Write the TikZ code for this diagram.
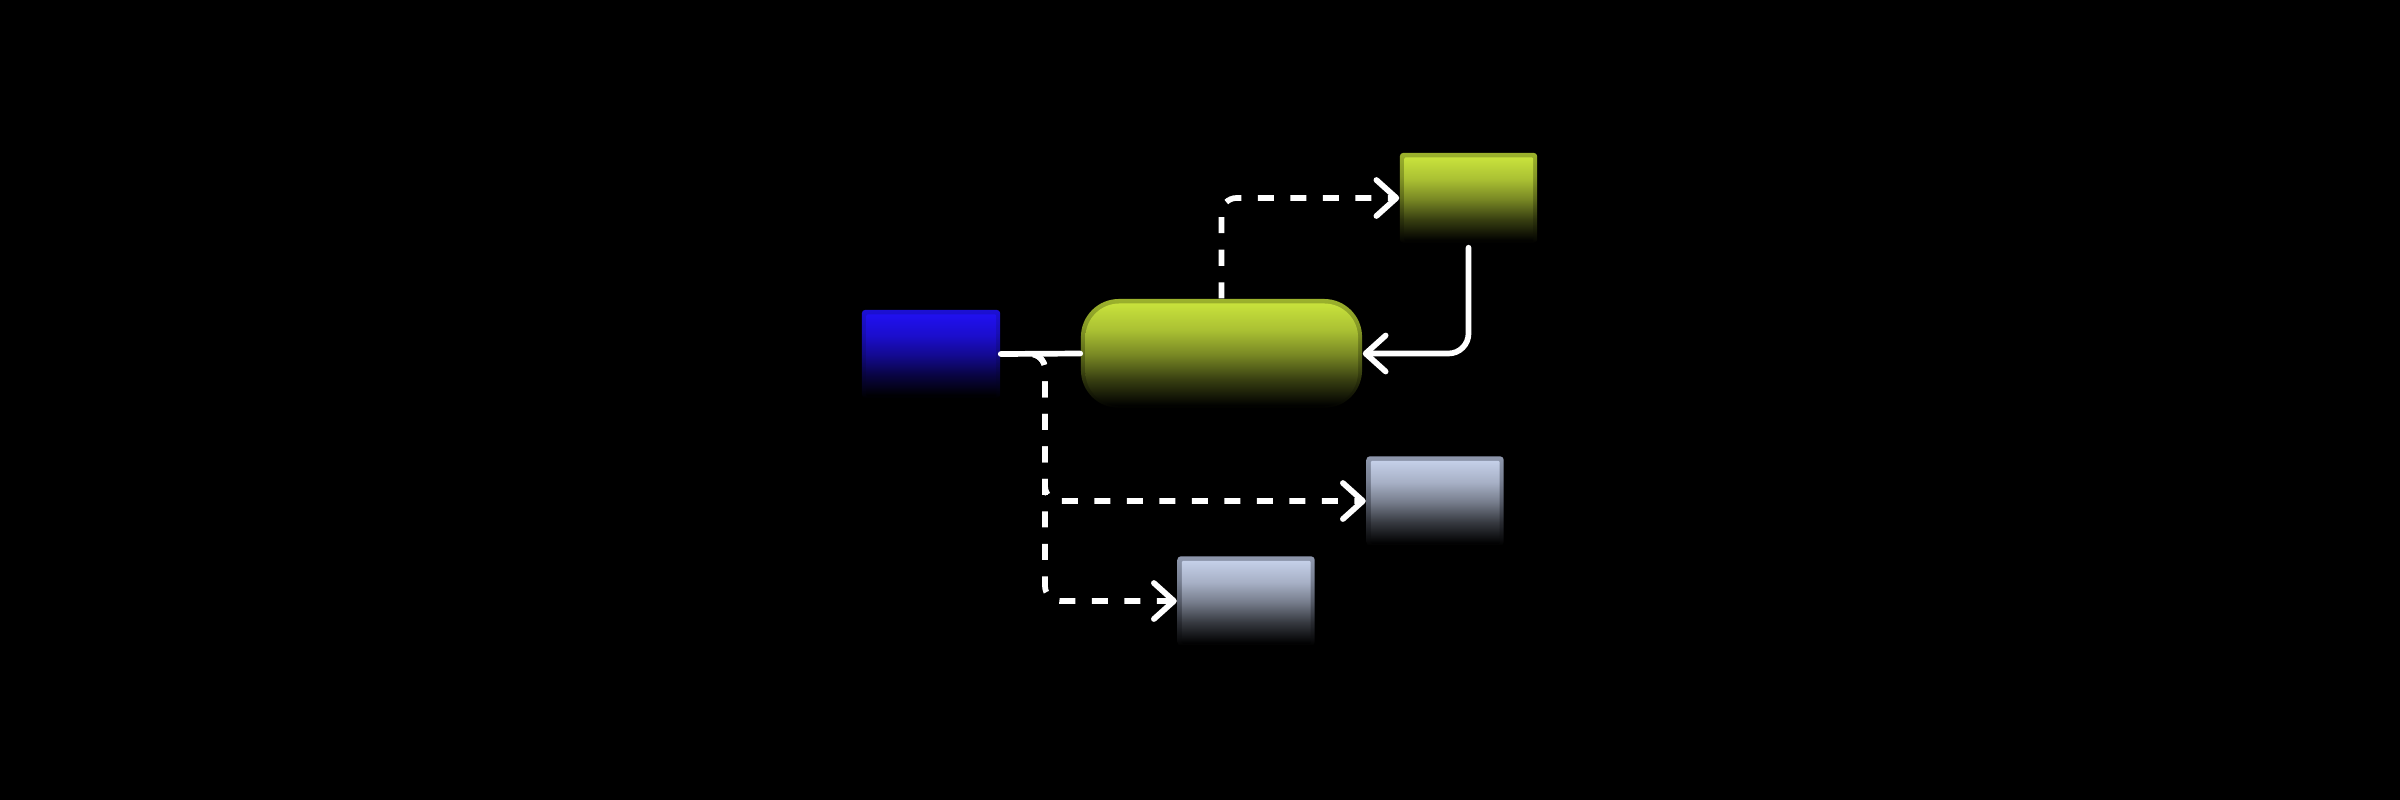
\documentclass[tikz,border=0pt]{standalone}
\usetikzlibrary{arrows.meta,shapes.misc}
\definecolor{bluefill}{HTML}{2010F0}
\definecolor{blueedge}{HTML}{1C10D4}
\definecolor{greenfill}{HTML}{C8E23C}
\definecolor{greenedge}{HTML}{9CB22C}
\definecolor{greyfill}{HTML}{C4CFE8}
\definecolor{greyedge}{HTML}{8E97AD}
\colorlet{topc}{white}
\pgfdeclareverticalshading[topc]{boxfade}{100bp}{color(0bp)=(black); color(25bp)=(black); color(38bp)=(topc!28!black); color(50bp)=(topc!60!black); color(62bp)=(topc!85!black); color(75bp)=(topc); color(100bp)=(topc)}
\begin{document}
\begin{tikzpicture}[x=0.01cm,y=-0.01cm,
  shadedbox/.style n args={3}{
    path picture={
      \colorlet{topc}{#1}
      \shade[shading=boxfade]
        (path picture bounding box.south west) rectangle (path picture bounding box.north east);
      \colorlet{topc}{#2}
      \shade[shading=boxfade, rounded corners=#3]
        ([xshift=0.045cm,yshift=-0.045cm]path picture bounding box.north west) rectangle
        ([xshift=-0.04cm,yshift=0.02cm]path picture bounding box.south east);
    }},
  box/.style={rectangle, rounded corners=0.03cm, minimum width=1.37cm, minimum height=0.89cm, inner sep=0pt},
  pill/.style={rectangle, rounded corners=0.38cm, minimum width=2.81cm, minimum height=1.09cm, inner sep=0pt},
  conn/.style={white, line width=0.057cm},
  solidconn/.style={conn, line cap=round, rounded corners=0.2cm},
  dashconn/.style={conn, dash pattern=on 0.16cm off 0.165cm, rounded corners=0.15cm},
  tip/.style={-{Straight Barb[length=0.2cm,width=0.36cm,round]}}]
\fill[black] (0,0) rectangle (2400,800);
\useasboundingbox (0,0) rectangle (2400,800);

\node[box, shadedbox={blueedge}{bluefill}{0.01cm}, minimum width=1.38cm, minimum height=0.88cm] (blue) at (931,354) {};
\node[pill, shadedbox={greenedge}{greenfill}{0.34cm}] (mid) at (1221.5,353.5) {};
\node[box, shadedbox={greenedge}{greenfill}{0.01cm}, minimum height=0.90cm] (green) at (1468.5,198) {};
\node[box, shadedbox={greyedge}{greyfill}{0.01cm}] (grey1) at (1435,501) {};
\node[box, shadedbox={greyedge}{greyfill}{0.01cm}] (grey2) at (1246,601) {};

\coordinate (split) at (1045,354);

\draw[dashconn, tip] (blue.east) -- (split) -- (split |- grey2.west) -- (grey2.west);
\draw[dashconn, tip] (blue.east) -- (split) -- (split |- grey1.west) -- (grey1.west);
\draw[dashconn, tip] (mid.north) -- (mid.north |- green.west) -- (green.west);
\draw[solidconn] (blue.east) -- (mid.west);
\draw[solidconn, tip] ([yshift=-0.04cm]green.south) -- (green.south |- mid.east) -- (mid.east);
\end{tikzpicture}
\end{document}
